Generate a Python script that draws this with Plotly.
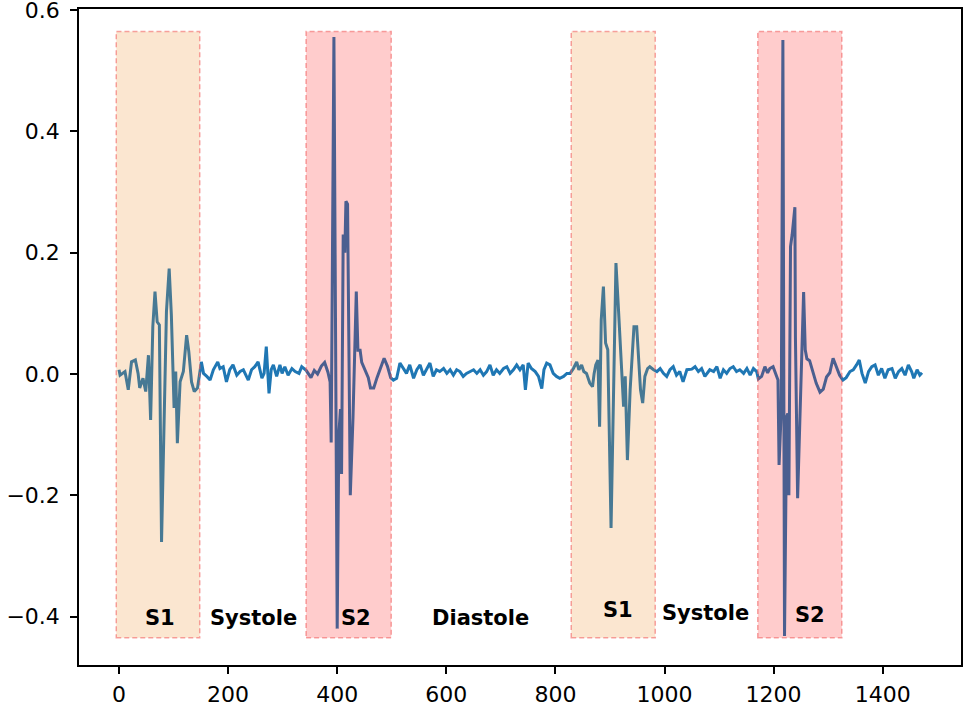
import plotly.graph_objects as go

# ---- data (sample index, amplitude) ----
s1a_x = [0, 2, 11, 17, 23, 30, 35, 38, 44, 49, 54, 58, 62, 66, 70, 74, 78, 84, 87, 92, 96, 101, 104, 107, 112, 118, 124, 128, 133, 138, 144, 151]
s1a_y = [0.007, -0.002, 0.004, -0.026, 0.02, 0.023, 0.001, -0.023, -0.007, -0.029, 0.031, -0.076, 0.078, 0.136, 0.086, 0.081, -0.277, -0.018, 0.103, 0.174, 0.097, -0.056, 0.004, -0.114, -0.013, 0.004, 0.064, 0.037, -0.013, -0.029, -0.023, 0.02]

sys1_x = [155, 161, 167, 173, 181, 185, 191, 197, 203, 209, 216, 222, 228, 237, 243, 249, 255, 262, 266, 270, 273, 275, 279, 283, 289, 295, 299, 304, 310, 317, 323, 330, 335]
sys1_y = [0.001, -0.004, -0.01, 0.007, 0.02, 0.009, 0.012, -0.013, 0.007, 0.015, -0.002, 0.004, 0.007, -0.01, 0.007, 0.012, 0.02, -0.007, 0.001, 0.045, -0.01, -0.032, 0.007, 0.015, -0.004, 0.015, 0.001, 0.012, -0.002, 0.009, 0.004, 0.001, 0.012]

s2a_x = [343, 352, 358, 364, 371, 377, 383, 387, 389, 394, 400, 403, 406, 408, 411, 414, 416, 419, 422, 424, 429, 435, 438, 442, 445, 451, 457, 461, 467, 473, 479, 486, 492, 498, 503]
s2a_y = [0.006, -0.006, 0.006, 0.0, 0.013, 0.019, 0.003, -0.013, -0.113, 0.556, -0.42, -0.1, -0.058, -0.165, 0.23, 0.2, 0.285, 0.28, 0.045, -0.2, -0.071, 0.136, 0.039, 0.039, 0.019, 0.006, -0.006, -0.023, -0.023, -0.006, 0.01, 0.026, 0.013, -0.006, -0.01]

dia_x = [509, 515, 521, 527, 533, 540, 546, 552, 558, 564, 570, 576, 582, 588, 595, 601, 607, 613, 619, 625, 631, 637, 643, 650, 656, 662, 668, 674, 680, 686, 692, 698, 705, 711, 717, 723, 729, 735, 741, 745, 750, 756, 763, 769, 775, 779, 784, 790, 796, 802, 808, 815, 821]
dia_y = [-0.007, 0.018, 0.009, 0.001, 0.015, -0.007, 0.007, 0.015, -0.002, 0.009, 0.018, -0.004, 0.007, 0.004, 0.009, 0.001, 0.007, -0.002, 0.007, 0.004, -0.004, 0.001, 0.004, 0.007, 0.001, 0.007, -0.002, 0.004, 0.015, -0.002, 0.007, 0.001, 0.009, 0.012, 0.001, 0.007, 0.015, 0.007, 0.015, -0.026, 0.018, 0.009, 0.004, -0.004, -0.024, 0.007, 0.018, 0.015, 0.001, -0.004, -0.007, -0.004, 0.001]

s1b_x = [827, 833, 839, 843, 848, 852, 857, 863, 868, 871, 874, 878, 881, 884, 888, 892, 896, 902, 906, 911, 915, 917, 922, 925, 928, 932, 937, 940, 944, 949, 953, 956, 960, 964, 969, 973, 980, 986]
s1b_y = [0.001, 0.009, 0.02, 0.007, 0.015, 0.004, 0.001, -0.015, -0.021, 0.001, 0.015, 0.023, -0.087, 0.089, 0.144, 0.051, 0.04, -0.254, -0.054, 0.183, 0.117, 0.078, 0.001, -0.054, -0.004, -0.142, -0.026, 0.012, 0.078, 0.078, 0.023, -0.026, -0.048, -0.004, 0.009, 0.012, 0.007, 0.004]

sys2_x = [992, 998, 1004, 1010, 1016, 1022, 1028, 1034, 1041, 1050, 1056, 1062, 1068, 1074, 1083, 1090, 1096, 1102, 1108, 1114, 1120, 1126, 1132, 1138, 1145, 1151, 1157, 1163, 1169]
sys2_y = [0.009, 0.001, -0.004, 0.007, 0.012, -0.002, 0.004, -0.013, 0.007, 0.008, 0.012, 0.004, 0.009, -0.004, 0.007, 0.004, 0.012, -0.007, 0.007, 0.001, 0.009, 0.012, 0.004, 0.007, 0.001, 0.009, -0.002, 0.009, 0.004]

s2b_x = [1172, 1178, 1184, 1189, 1193, 1199, 1203, 1208, 1210, 1214, 1217, 1220, 1224, 1226, 1228, 1231, 1234, 1239, 1240, 1244, 1248, 1255, 1258, 1261, 1266, 1272, 1278, 1285, 1291, 1297, 1303, 1309, 1315, 1321, 1327, 1333]
s2b_y = [-0.008, -0.004, 0.012, 0.002, 0.009, 0.012, 0.002, -0.01, -0.15, -0.06, 0.551, -0.432, -0.07, -0.065, -0.2, 0.21, 0.23, 0.275, 0.06, -0.205, -0.08, 0.135, 0.04, 0.025, 0.022, 0.002, -0.015, -0.03, -0.025, -0.005, 0.002, 0.026, 0.012, -0.002, -0.01, -0.006]

end_x = [1340, 1346, 1352, 1357, 1362, 1368, 1374, 1380, 1386, 1392, 1398, 1404, 1410, 1417, 1423, 1429, 1435, 1441, 1447, 1453, 1457, 1463, 1468, 1472]
end_y = [0.004, 0.007, 0.015, 0.023, 0.001, -0.015, 0.004, 0.012, 0.015, -0.002, 0.009, -0.007, 0.007, 0.009, -0.007, 0.004, 0.009, -0.002, 0.015, 0.004, -0.007, 0.007, -0.002, 0.002]

# segment spans (start, end) and kind
seg_start = [-5, 343, 829, 1171]
seg_end = [148, 499, 983, 1325]
seg_kind = ["S1", "S2", "S1", "S2"]
span_low, span_high = -0.435, 0.565

# phase labels
label_text = ["S1", "Systole", "S2", "Diastole", "S1", "Systole", "S2"]
label_x = [75, 246, 435, 662, 915, 1076, 1267]
label_y = [-0.402, -0.402, -0.402, -0.402, -0.389, -0.394, -0.398]

x_ticks = [0, 200, 400, 600, 800, 1000, 1200, 1400]
y_ticks = [-0.4, -0.2, 0.0, 0.2, 0.4, 0.6]

sig_x = s1a_x + sys1_x + s2a_x + dia_x + s1b_x + sys2_x + s2b_x + end_x
sig_y = s1a_y + sys1_y + s2a_y + dia_y + s1b_y + sys2_y + s2b_y + end_y

fill_col = {"S1": "rgba(235,130,20,0.2)", "S2": "rgba(255,0,0,0.2)"}
edge_col = "rgba(240,90,90,0.55)"

fig = go.Figure()
fig.add_trace(go.Scatter(x=sig_x, y=sig_y, mode="lines",
                         line=dict(color="#1f77b4", width=3),
                         hoverinfo="skip", showlegend=False))

for a, b, k in zip(seg_start, seg_end, seg_kind):
    fig.add_shape(type="rect", xref="x", yref="y", x0=a, x1=b, y0=span_low, y1=span_high,
                  fillcolor=fill_col[k], line=dict(width=0), layer="above")
    fig.add_shape(type="rect", xref="x", yref="y", x0=a, x1=b, y0=span_low, y1=span_high,
                  fillcolor="rgba(0,0,0,0)", line=dict(color=edge_col, width=1.5, dash="5px,3px"),
                  layer="above")

for t, lx, ly in zip(label_text, label_x, label_y):
    fig.add_annotation(x=lx, y=ly, xref="x", yref="y", text="<b>" + t + "</b>",
                       showarrow=False, font=dict(family="DejaVu Sans", size=21, color="black"))

axis_common = dict(showline=True, linecolor="black", linewidth=1.5, mirror=True,
                   ticks="outside", ticklen=7, tickwidth=1.5, tickcolor="black",
                   showgrid=False, zeroline=False, automargin=False,
                   ticklabeloverflow="allow",
                   tickfont=dict(family="DejaVu Sans", size=22, color="black"))

fig.update_xaxes(range=[-73.3, 1543.5], tickvals=x_ticks, ticklabelstandoff=2, **axis_common)
fig.update_yaxes(range=[-0.48, 0.602], tickvals=y_ticks, tickformat=".1f",
                 ticklabelstandoff=6, **axis_common)

fig.update_layout(width=968, height=706,
                  margin=dict(l=79, r=7, t=9, b=41),
                  plot_bgcolor="white", paper_bgcolor="white",
                  font=dict(family="DejaVu Sans"))

fig.write_html("out.html", config={"displayModeBar": False},
               post_script="document.body.style.margin='0';document.body.style.overflow='hidden';")
